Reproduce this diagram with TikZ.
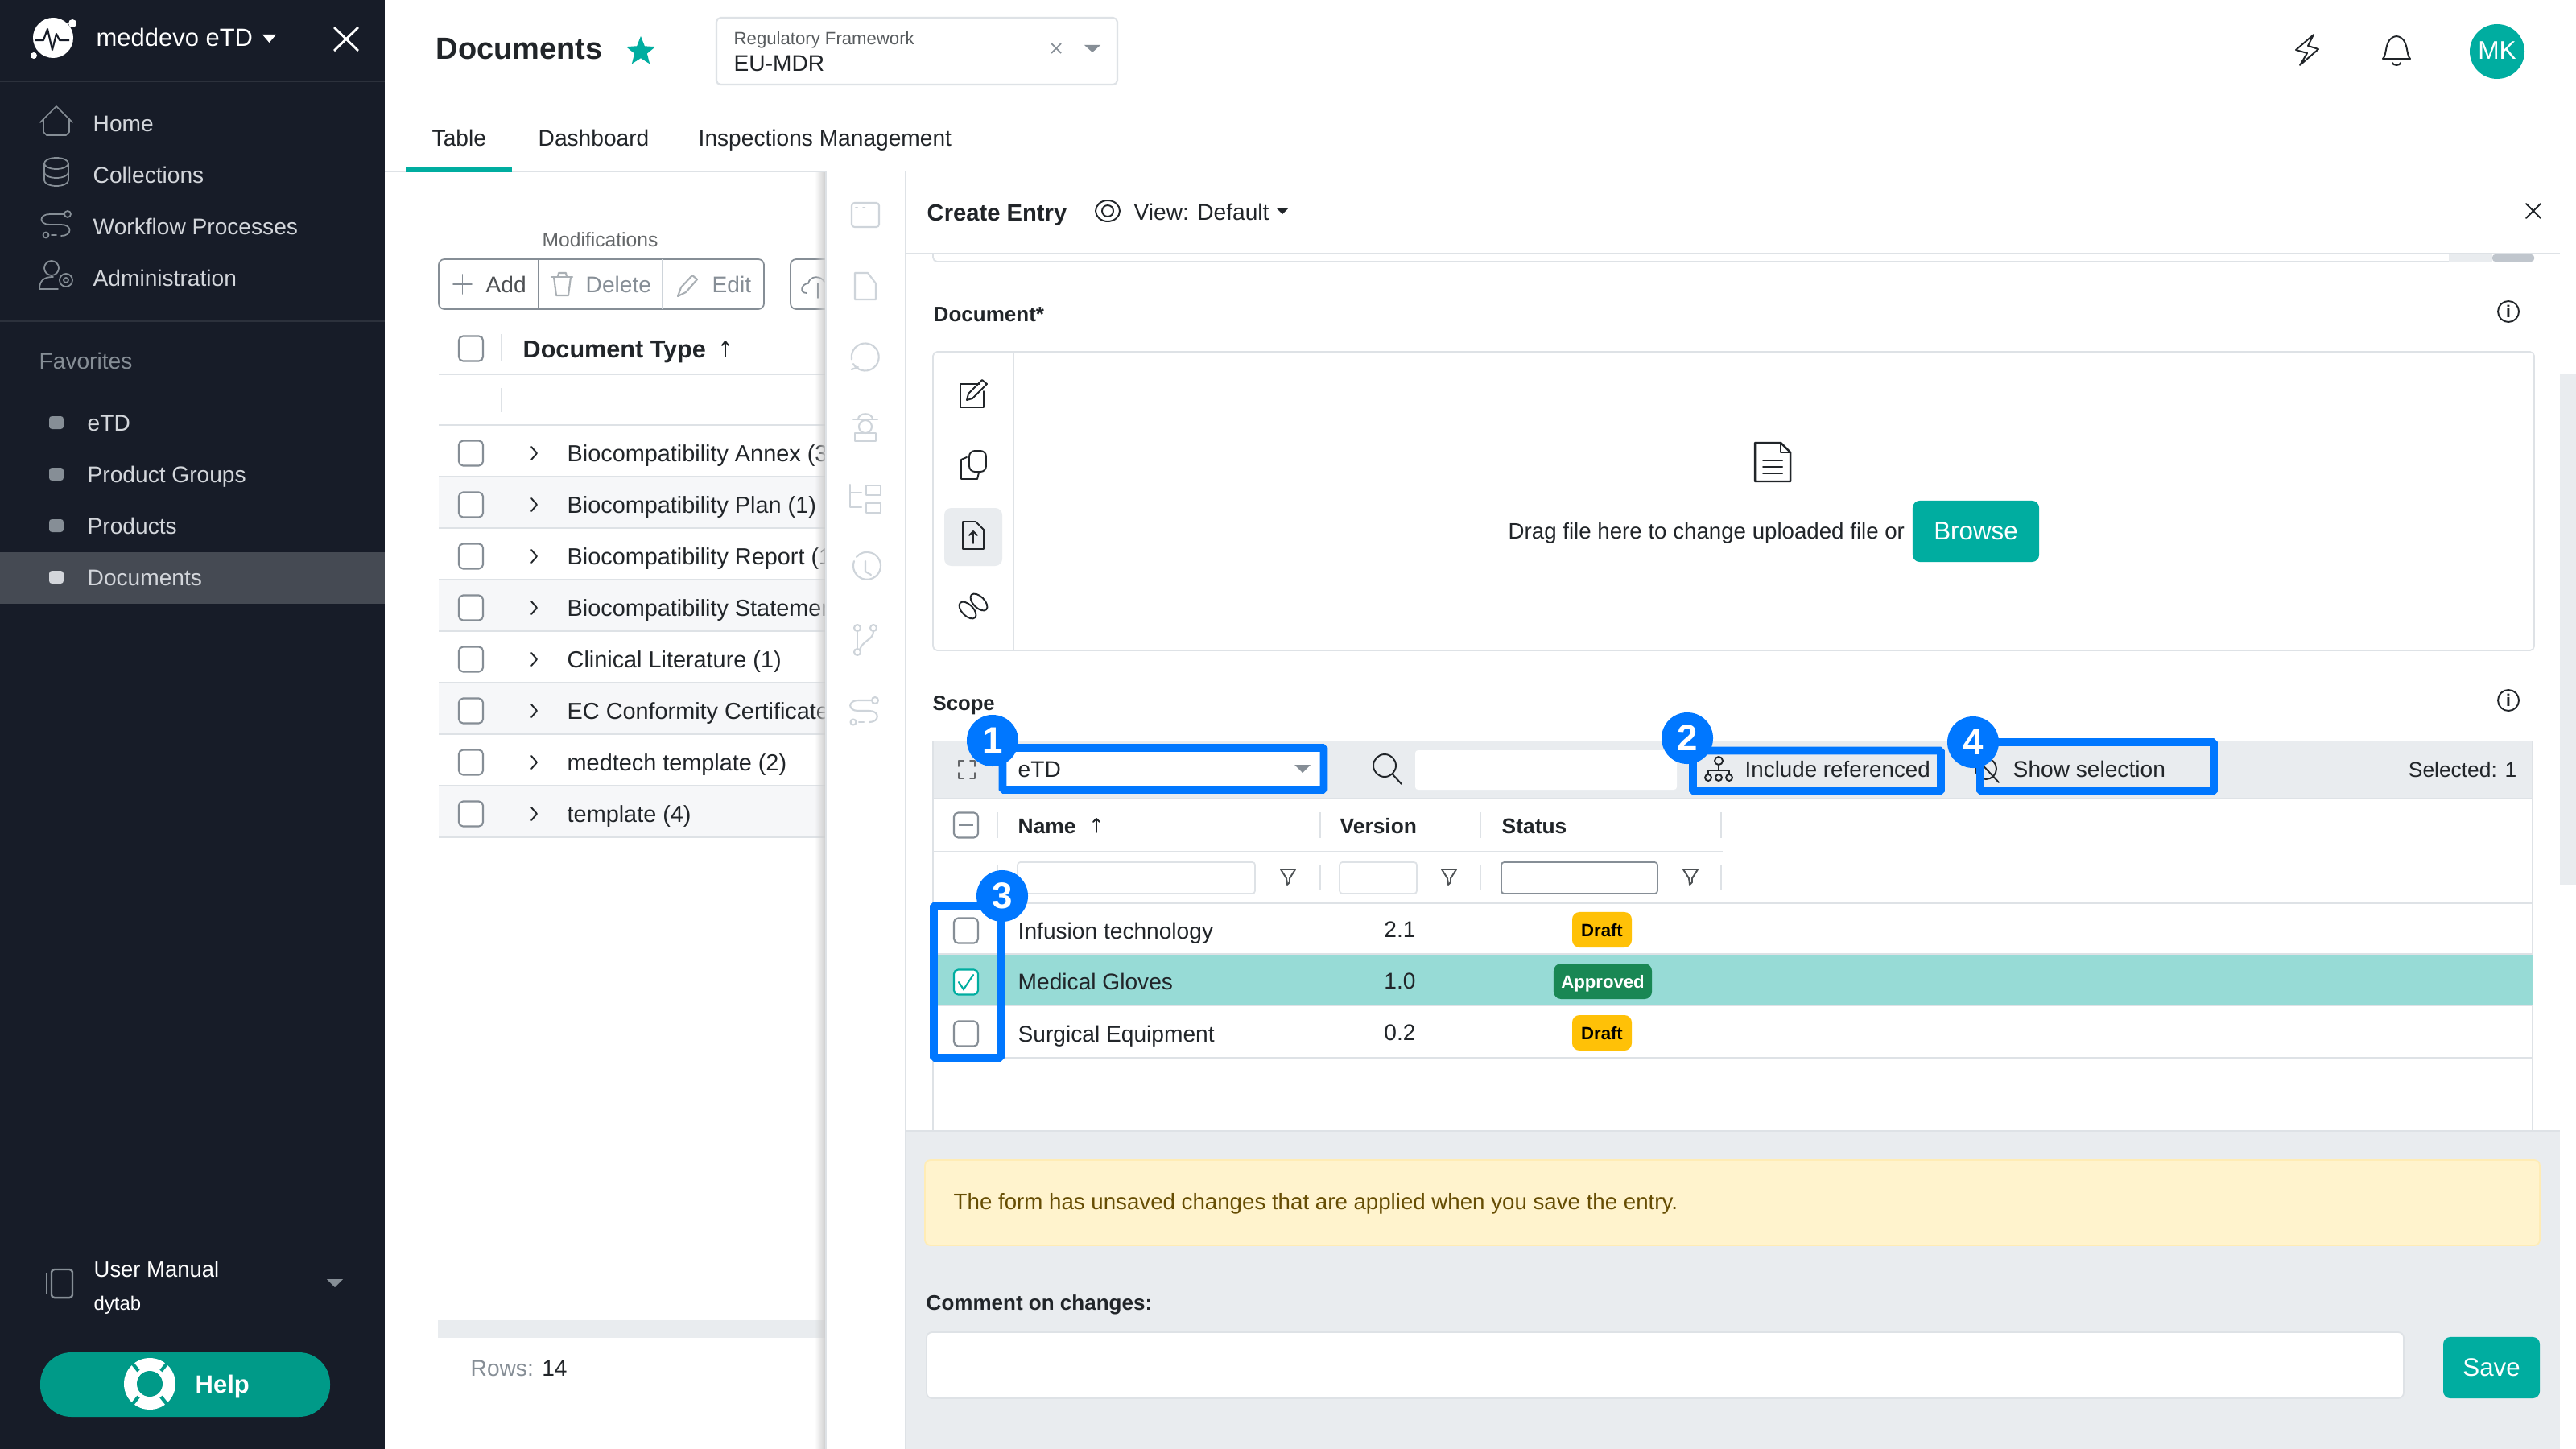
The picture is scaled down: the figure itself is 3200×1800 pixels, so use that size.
\documentclass[tikz,border=0pt]{standalone}
\usepackage{fontspec}
\setmainfont{Liberation Sans}
\usetikzlibrary{shapes.geometric}
\usetikzlibrary{fadings}
\definecolor{custom-navy}{HTML}{171C28}
\definecolor{custom-row}{HTML}{454A53}
\definecolor{custom-line}{HTML}{2C313C}
\definecolor{custom-teal}{HTML}{00ADA0}
\definecolor{custom-help}{HTML}{009A88}
\definecolor{custom-blue}{HTML}{0077FF}
\definecolor{custom-rule}{HTML}{DEE2E6}
\definecolor{custom-bar}{HTML}{E9ECEF}
\definecolor{custom-ink}{HTML}{212529}
\definecolor{custom-grey}{HTML}{868E96}
\definecolor{custom-pale}{HTML}{CED4DA}
\definecolor{custom-side}{HTML}{D3D6DB}
\definecolor{custom-draft}{HTML}{FFC107}
\definecolor{custom-ok}{HTML}{198754}
\definecolor{custom-pick}{HTML}{97DBD6}
\definecolor{custom-warn}{HTML}{FFF3CD}
\definecolor{custom-warnline}{HTML}{FFECB5}
\definecolor{custom-warntext}{HTML}{664D03}
\tikzset{
  txt/.style={anchor=west, inner sep=0pt, text height=7.2pt, text depth=1.3pt, text=custom-ink, font=\fontsize{8}{10}\selectfont},
  sidetxt/.style={txt, text=custom-side},
  typetxt/.style={txt, font=\fontsize{8.2}{10}\selectfont},
  headtxt/.style={txt, font=\fontsize{7.5}{10}\selectfont\bfseries},
  midtxt/.style={txt, anchor=center},
  chk/.style={draw=custom-grey, line width=0.6pt, rounded corners=1.5pt, minimum width=0.30cm, minimum height=0.31cm, inner sep=0pt, fill=white},
  badge/.style={rounded corners=2.6pt, inner sep=0pt, minimum height=0.44cm, text depth=0pt, font=\fontsize{6.3}{8}\selectfont\bfseries},
  rulel/.style={draw=custom-rule, line width=0.5pt},
  callout/.style={draw=custom-blue, line width=2.8pt, rounded corners=0.5pt},
  numdot/.style={circle, fill=custom-blue, text=white, minimum size=0.64cm, inner sep=0pt, font=\fontsize{13}{15}\selectfont\bfseries},
  iconl/.style={draw=custom-ink, line width=0.55pt, line cap=round, line join=round},
  sideicon/.style={draw=custom-grey, line width=0.5pt, line cap=round, line join=round},
  railicon/.style={draw=custom-pale, line width=0.6pt, line cap=round, line join=round},
  funnel/.pic={\draw[iconl, draw=custom-ink!80] (-9,-9) -- (9,-9) -- (2,2) -- (2,7) -- (-1,10) -- (-2,2) -- cycle;},
  infoicon/.pic={\draw[iconl] (0,0) circle (13);
    \node[inner sep=0pt, font=\fontsize{6}{7}\selectfont\bfseries, text=custom-ink] at (0,0) {i};},
  tickl/.style={draw=custom-rule, line width=0.4pt}
}
\begin{document}
\begin{tikzpicture}[x=0.01cm,y=-0.01cm]
\useasboundingbox (0,0) rectangle (3200,1800);
\fill[white] (0,0) rectangle (3200,1800);
% sidebar
\fill[custom-navy] (0,0) rectangle (478,1800);
\draw[custom-line, line width=0.7pt] (0,101) -- (478,101);
\draw[custom-line, line width=0.7pt] (0,399) -- (478,399);
\fill[custom-row] (0,686) rectangle (478,750);
\fill[white] (66,47) circle (25);
\fill[white] (90,29) circle (5);
\fill[white] (42,69) circle (4);
\draw[custom-navy, line width=0.6pt, line join=round] (44,50) -- (54,50) -- (59,36) -- (65,62) -- (70,42) -- (74,50) -- (86,50);
\node[sidetxt, text=white, font=\fontsize{8.8}{10}\selectfont] (brand) at (119,47) {meddevo eTD};
\fill[white] (326,43) -- (343,43) -- (334.5,53) -- cycle;
\draw[white, line width=0.8pt] (415,34) -- (445,63);
\draw[white, line width=0.8pt] (445,34) -- (415,63);
\draw[sideicon] (50,152) -- (70,132) -- (90,152);
\draw[sideicon] (54,148) -- (54,164) -- (58,168) -- (82,168) -- (86,164) -- (86,148);
\draw[sideicon] (70,203) ellipse (15 and 7);
\draw[sideicon] (55,203) -- (55,224) arc (180:0:15 and 7) -- (85,203);
\draw[sideicon] (55,214) arc (180:0:15 and 7);
\draw[sideicon] (80,266) -- (62,266) .. controls (48,266) and (48,279) .. (62,279) -- (76,279) .. controls (90,279) and (90,293) .. (76,293);
\draw[sideicon] (84,266) circle (4);
\draw[sideicon] (57,292) circle (3.5);
\draw[sideicon] (64,292) -- (70,292);
\draw[sideicon] (64,333) circle (9);
\draw[sideicon] (49,359) .. controls (49,346) and (58,344) .. (66,344);
\draw[sideicon] (49,359) -- (72,359);
\draw[sideicon] (82,348) circle (8);
\draw[sideicon] (82,348) circle (3);
\node[sidetxt] (home) at (115,153) {Home};
\node[sidetxt] (collections) at (115,217) {Collections};
\node[sidetxt] (workflow) at (115,281) {Workflow Processes};
\node[sidetxt] (admin) at (115,345) {Administration};
\node[sidetxt, text=custom-grey] (favorites) at (48,448) {Favorites};
\fill[custom-grey, rounded corners=1pt] (61,517) rectangle (79,533);
\fill[custom-grey, rounded corners=1pt] (61,581) rectangle (79,597);
\fill[custom-grey, rounded corners=1pt] (61,645) rectangle (79,661);
\fill[custom-side, rounded corners=1pt] (61,709) rectangle (79,725);
\node[sidetxt] (favA) at (108,525) {eTD};
\node[sidetxt] (favB) at (108,589) {Product Groups};
\node[sidetxt] (favC) at (108,653) {Products};
\node[sidetxt] (favD) at (108,717) {Documents};
\draw[custom-grey, line width=0.5pt] (57.5,1581) -- (57.5,1608);
\draw[custom-grey, line width=0.7pt, rounded corners=1pt] (64,1577) rectangle (90,1612);
\node[sidetxt, text=white, font=\fontsize{7.8}{10}\selectfont] (manual) at (116,1576) {User Manual};
\node[sidetxt, text=white, font=\fontsize{6.8}{9}\selectfont] (dytab) at (116,1617) {dytab};
\fill[custom-grey] (406,1589) -- (426,1589) -- (416,1599) -- cycle;
\fill[custom-help, rounded corners=11pt] (50,1680) rectangle (410,1760);
\fill[white] (186,1719) circle (32);
\fill[custom-help] (186,1719) circle (16);
\draw[custom-help, line width=1.2pt] (172,1703) -- (164,1693);
\draw[custom-help, line width=1.2pt] (200,1703) -- (208,1693);
\draw[custom-help, line width=1.2pt] (172,1735) -- (164,1745);
\draw[custom-help, line width=1.2pt] (200,1735) -- (208,1745);
\node[sidetxt, text=white, font=\fontsize{8.8}{10}\selectfont\bfseries] (help) at (242,1720) {Help};
% top bar
\node[txt, font=\fontsize{10.8}{12}\selectfont\bfseries] (title) at (541,63) {Documents};
\node[star, star points=5, star point ratio=2.3, fill=custom-teal, inner sep=0pt, minimum size=0.38cm] (fav) at (796,64) {};
\draw[custom-rule, line width=0.6pt, rounded corners=1.5pt] (890,22) rectangle (1388,105);
\node[txt, text=custom-ink!75, font=\fontsize{6.3}{8}\selectfont] (framework) at (911,45) {Regulatory Framework};
\node[txt] (mdr) at (911,78) {EU-MDR};
\draw[custom-grey, line width=0.5pt] (1306,54) -- (1318,66);
\draw[custom-grey, line width=0.5pt] (1318,54) -- (1306,66);
\fill[custom-grey] (1347,56) -- (1367,56) -- (1357,65) -- cycle;
\draw[iconl] (2874,43) -- (2852,62) -- (2866,66) -- (2857,81) -- (2880,61) -- (2867,57) -- cycle;
\draw[iconl] (2960,73) .. controls (2966,68) and (2961,47) .. (2977,45) .. controls (2993,47) and (2988,68) .. (2994,73) -- cycle;
\draw[iconl] (2972,78) arc (180:360:5 and -3);
\fill[custom-teal] (3102,64) circle (34);
\node[inner sep=0pt, text=white, font=\fontsize{9}{10}\selectfont] (initials) at (3102,63) {MK};
\node[txt] (tabA) at (536,171) {Table};
\node[txt] (tabB) at (668,171) {Dashboard};
\node[txt] (tabC) at (867,171) {Inspections Management};
\draw[rulel] (478,213) -- (3200,213);
\fill[custom-teal] (504,208) rectangle (636,214);
% table behind the panel
\node[txt, text=custom-ink!70, font=\fontsize{7}{9}\selectfont] (mods) at (673,296) {Modifications};
\draw[custom-grey, line width=0.5pt, rounded corners=2pt] (545,322) rectangle (949,384);
\draw[custom-grey, line width=0.5pt] (669,322) -- (669,384);
\draw[custom-pale, line width=0.5pt] (823,322) -- (823,384);
\draw[custom-grey, line width=0.5pt, rounded corners=2pt] (982,322) rectangle (1100,384);
\draw[sideicon] (563,353) -- (586,353);
\draw[sideicon] (574.5,341) -- (574.5,365);
\node[txt, text=custom-ink!80] (add) at (603,353) {Add};
\draw[railicon, draw=custom-grey!70] (685,344) -- (711,344);
\draw[railicon, draw=custom-grey!70] (693,344) -- (694,339) -- (703,339) -- (704,344);
\draw[railicon, draw=custom-grey!70] (688,344) -- (691,367) -- (706,367) -- (709,344);
\node[txt, text=custom-grey] (del) at (727,353) {Delete};
\draw[railicon, draw=custom-grey!70] (842,368) -- (846,357) -- (860,342) -- (866,347) -- (852,363) -- cycle;
\node[txt, text=custom-grey] (edit) at (884,353) {Edit};
\draw[sideicon] (1002,364) .. controls (992,364) and (996,352) .. (1004,352) .. controls (1006,342) and (1020,342) .. (1024,350);
\draw[sideicon] (1016,370) -- (1016,352);
\node[chk] (hchk) at (585,433) {};
\draw[tickl] (623,415) -- (623,448);
\draw[tickl] (623,482) -- (623,512);
\node[txt, font=\fontsize{8.7}{10}\selectfont\bfseries] (doctype) at (649,434) {Document Type};
\draw[iconl] (901,443) -- (901,424);
\draw[iconl] (897,429) -- (901,424) -- (905,429);
\draw[rulel] (545,465) -- (1030,465);
\draw[rulel] (545,528) -- (1030,528);
\fill[custom-bar!40] (545,592) rectangle (1030,656);
\fill[custom-bar!40] (545,720) rectangle (1030,784);
\fill[custom-bar!40] (545,848) rectangle (1030,912);
\fill[custom-bar!40] (545,976) rectangle (1030,1040);
\draw[rulel] (545,592) -- (1030,592);
\draw[rulel] (545,656) -- (1030,656);
\draw[rulel] (545,720) -- (1030,720);
\draw[rulel] (545,784) -- (1030,784);
\draw[rulel] (545,848) -- (1030,848);
\draw[rulel] (545,912) -- (1030,912);
\draw[rulel] (545,976) -- (1030,976);
\draw[rulel] (545,1040) -- (1030,1040);
\node[chk] (rowA) at (585,563) {};
\node[chk] (rowB) at (585,627) {};
\node[chk] (rowC) at (585,691) {};
\node[chk] (rowD) at (585,755) {};
\node[chk] (rowE) at (585,819) {};
\node[chk] (rowF) at (585,883) {};
\node[chk] (rowG) at (585,947) {};
\node[chk] (rowH) at (585,1011) {};
\draw[iconl] (660,555) -- (667,563) -- (660,571);
\draw[iconl] (660,619) -- (667,627) -- (660,635);
\draw[iconl] (660,683) -- (667,691) -- (660,699);
\draw[iconl] (660,747) -- (667,755) -- (660,763);
\draw[iconl] (660,811) -- (667,819) -- (660,827);
\draw[iconl] (660,875) -- (667,883) -- (660,891);
\draw[iconl] (660,939) -- (667,947) -- (660,955);
\draw[iconl] (660,1003) -- (667,1011) -- (660,1019);
\node[typetxt] (typeA) at (704,563) {Biocompatibility Annex (3)};
\node[typetxt] (typeB) at (704,627) {Biocompatibility Plan (1)};
\node[typetxt] (typeC) at (704,691) {Biocompatibility Report (1)};
\node[typetxt] (typeD) at (704,755) {Biocompatibility Statement (1)};
\node[typetxt] (typeE) at (704,819) {Clinical Literature (1)};
\node[typetxt] (typeF) at (704,883) {EC Conformity Certificate (1)};
\node[typetxt] (typeG) at (704,947) {medtech template (2)};
\node[typetxt] (typeH) at (704,1011) {template (4)};
\fill[custom-bar] (544,1640) rectangle (1030,1662);
\node[txt, text=custom-grey] (rows) at (584,1699) {Rows: \textcolor{custom-ink}{14}};
% panel
\fill[white] (1026,213) rectangle (3200,1800);
\fill[black!20, path fading=west] (1012,214) rectangle (1026,1800);
\draw[rulel] (1026,213) -- (1026,1800);
\draw[rulel] (1125,213) -- (1125,1800);
\draw[rulel] (1125,315) -- (3200,315);
\draw[railicon, rounded corners=1pt] (1058,252) rectangle (1092,282);
\draw[railicon, dotted] (1063,258) -- (1075,258);
\draw[railicon] (1062,344) -- (1062,372) -- (1088,372) -- (1088,352) -- (1078,339) -- (1062,339) -- (1062,344);
\draw[railicon] (1060,452) arc (150:-190:17);
\draw[railicon] (1059,458) -- (1058,459) -- (1066,456);
\draw[railicon] (1060,521) -- (1090,521);
\draw[railicon] (1066,521) .. controls (1066,512) and (1084,512) .. (1084,521);
\draw[railicon] (1075,530) circle (8);
\draw[railicon] (1062,548) -- (1062,538) -- (1088,538) -- (1088,548) -- cycle;
\draw[railicon] (1056,602) -- (1056,630) -- (1070,630);
\draw[railicon] (1056,612) -- (1070,612);
\draw[railicon] (1076,603) rectangle (1094,615);
\draw[railicon] (1076,625) rectangle (1094,637);
\draw[railicon] (1061,697) arc (200:-140:17);
\draw[railicon] (1075,697) -- (1075,710) -- (1082,714);
\draw[railicon] (1065,780) circle (4);
\draw[railicon] (1085,780) circle (4);
\draw[railicon] (1065,810) circle (4);
\draw[railicon] (1065,784) -- (1065,806);
\draw[railicon] (1085,784) .. controls (1085,795) and (1072,795) .. (1068,807);
\draw[railicon] (1082,870) -- (1066,870) .. controls (1053,870) and (1053,883) .. (1066,883) -- (1080,883) .. controls (1093,883) and (1093,897) .. (1080,897);
\draw[railicon] (1087,870) circle (4);
\draw[railicon] (1060,897) circle (3.5);
\draw[railicon] (1067,897) -- (1073,897);
\node[txt, font=\fontsize{8.3}{10}\selectfont\bfseries] (entry) at (1151,264) {Create Entry};
\draw[iconl] (1376,262) ellipse (15 and 13);
\draw[iconl] (1376,262) circle (7);
\node[txt] (view) at (1408,263) {View: Default};
\fill[custom-ink] (1585,258) -- (1601,258) -- (1593,266) -- cycle;
\draw[iconl] (3138,253) -- (3156,271);
\draw[iconl] (3156,253) -- (3138,271);
% field above
\draw[rulel, rounded corners=1.5pt] (1159,316) -- (1159,325) -- (3042,325);
\fill[custom-bar] (3042,316) rectangle (3096,325);
\fill[custom-pale!80!custom-grey, rounded corners=1pt] (3096,316) rectangle (3148,325);
% document field
\node[txt, font=\fontsize{7.4}{9}\selectfont\bfseries] (docfield) at (1159,389) {Document*};
\path (3116,387) pic {infoicon};
\draw[rulel, rounded corners=1.5pt] (1159,437) rectangle (3148,808);
\draw[rulel] (1259,437) -- (1259,808);
\fill[custom-bar, rounded corners=2.5pt] (1173,631) rectangle (1245,703);
\draw[iconl] (1217,477) -- (1193,477) -- (1193,506) -- (1222,506) -- (1222,486);
\draw[iconl] (1201,497) -- (1203,489) -- (1220,472) -- (1226,477) -- (1208,495) -- cycle;
\draw[iconl, rounded corners=2pt] (1204,560) rectangle (1225,586);
\draw[iconl] (1201,568) -- (1194,571) -- (1194,595) -- (1214,595) -- (1216,587);
\draw[iconl] (1196,648) -- (1196,682) -- (1222,682) -- (1222,658) -- (1212,648) -- cycle;
\draw[iconl] (1209,675) -- (1209,660);
\draw[iconl] (1204,665) -- (1209,660) -- (1214,665);
\draw[iconl, rotate around={-45:(1202,758)}] (1202,758) ellipse (13 and 7);
\draw[iconl, rotate around={-45:(1216,748)}] (1216,748) ellipse (13 and 7);
\draw[iconl, line width=0.7pt] (2180,550) -- (2212,550) -- (2224,562) -- (2224,598) -- (2180,598) -- cycle;
\draw[iconl] (2212,550) -- (2212,562) -- (2224,562);
\draw[iconl] (2190,572) -- (2214,572);
\draw[iconl] (2190,580) -- (2214,580);
\draw[iconl] (2190,588) -- (2214,588);
\node[txt, font=\fontsize{7.87}{10}\selectfont] (drag) at (1873,659) {Drag file here to change uploaded file or};
\node[fill=custom-teal, text=white, rounded corners=2.5pt, inner sep=0pt, minimum width=1.57cm, minimum height=0.76cm, font=\fontsize{8.9}{10}\selectfont] (browse) at (2454.5,660) {Browse};
% scope grid
\node[txt, font=\fontsize{7.3}{9}\selectfont\bfseries] (scope) at (1158,872) {Scope};
\path (3116,870) pic {infoicon};
\fill[custom-bar] (1159,920) rectangle (3146,992);
\draw[rulel] (1159,992) -- (3146,992);
\draw[rulel] (1159,920) -- (1159,1405);
\draw[rulel] (3146,920) -- (3146,1405);
\draw[iconl, draw=custom-ink!70] (1191,952) -- (1191,945) -- (1197,945);
\draw[iconl, draw=custom-ink!70] (1205,945) -- (1211,945) -- (1211,952);
\draw[iconl, draw=custom-ink!70] (1191,960) -- (1191,967) -- (1197,967);
\draw[iconl, draw=custom-ink!70] (1205,967) -- (1211,967) -- (1211,960);
\fill[white] (1250,934) rectangle (1640,976);
\node[txt] (etd) at (1264,955) {eTD};
\fill[custom-grey] (1608,950) -- (1628,950) -- (1618,960) -- cycle;
\draw[iconl] (1720,951) circle (14);
\draw[iconl] (1730,962) -- (1741,974);
\fill[white, rounded corners=1pt] (1758,932) rectangle (2083,981);
\draw[iconl] (2135,945) circle (5);
\draw[iconl] (2135,950) -- (2135,957);
\draw[iconl] (2122,962) -- (2122,957) -- (2148,957) -- (2148,962);
\draw[iconl] (2122,966) circle (4);
\draw[iconl] (2135,966) circle (4);
\draw[iconl] (2148,966) circle (4);
\node[txt, font=\fontsize{7.9}{10}\selectfont] (incl) at (2167,955) {Include referenced};
\draw[iconl] (2467,955) circle (13);
\draw[iconl] (2455,942) -- (2483,972);
\node[txt] (showsel) at (2500,955) {Show selection};
\node[txt, anchor=east, font=\fontsize{7.5}{10}\selectfont] (selected) at (3127,955) {Selected: 1};
% grid head
\node[chk] (allchk) at (1200,1025) {};
\draw[custom-grey, line width=0.6pt] (1191,1025) -- (1209,1025);
\draw[tickl] (1239,1009) -- (1239,1041);
\draw[tickl] (1640,1009) -- (1640,1041);
\draw[tickl] (1839,1009) -- (1839,1041);
\draw[tickl] (2138,1009) -- (2138,1041);
\node[headtxt] (name) at (1264,1025) {Name};
\draw[iconl] (1362,1034) -- (1362,1017);
\draw[iconl] (1358,1021) -- (1362,1017) -- (1366,1021);
\node[headtxt] (version) at (1664,1025) {Version};
\node[headtxt] (status) at (1865,1025) {Status};
\draw[rulel] (1159,1058) -- (2140,1058);
\draw[tickl] (1239,1074) -- (1239,1106);
\draw[tickl] (1640,1074) -- (1640,1106);
\draw[tickl] (1839,1074) -- (1839,1106);
\draw[tickl] (2138,1074) -- (2138,1106);
\draw[rulel, rounded corners=1pt] (1264,1071) rectangle (1559,1110);
\draw[rulel, rounded corners=1pt] (1664,1071) rectangle (1760,1110);
\draw[custom-grey, line width=0.5pt, rounded corners=1pt] (1865,1071) rectangle (2059,1110);
\path (1600,1089) pic {funnel};
\path (1800,1089) pic {funnel};
\path (2100,1089) pic {funnel};
% grid rows
\fill[custom-pick] (1159,1186) rectangle (3146,1249);
\draw[rulel] (1159,1122) -- (3146,1122);
\draw[rulel] (1159,1185) -- (3146,1185);
\draw[rulel] (1159,1249) -- (3146,1249);
\draw[rulel] (1159,1314) -- (3146,1314);
\node[chk] (pickA) at (1200,1156) {};
\node[chk, draw=custom-teal] (pickB) at (1200,1220) {};
\node[chk] (pickC) at (1200,1284) {};
\draw[custom-teal, line width=0.6pt, line cap=round] (1191,1220) -- (1197,1229) -- (1209,1211);
\node[txt] (nameA) at (1264,1156) {Infusion technology};
\node[txt] (nameB) at (1264,1219) {Medical Gloves};
\node[txt] (nameC) at (1264,1284) {Surgical Equipment};
\node[midtxt] (verA) at (1739,1154) {2.1};
\node[midtxt] (verB) at (1739,1218) {1.0};
\node[midtxt] (verC) at (1739,1282) {0.2};
\node[badge, fill=custom-draft, minimum width=0.74cm] (drA) at (1990,1155) {Draft};
\node[badge, fill=custom-ok, text=white, minimum width=1.22cm] (okB) at (1991,1219) {Approved};
\node[badge, fill=custom-draft, minimum width=0.74cm] (drC) at (1990,1283) {Draft};
% footer
\fill[white] (3180,213) rectangle (3200,1800);
\fill[custom-bar] (3180,465) rectangle (3200,1099);
\fill[custom-bar] (1126,1405) rectangle (3180,1800);
\draw[rulel] (1126,1405) -- (3180,1405);
\draw[custom-warnline, fill=custom-warn, line width=0.5pt, rounded corners=2pt] (1149,1441) rectangle (3155,1547);
\node[txt, text=custom-warntext, font=\fontsize{7.87}{10}\selectfont] (warn) at (1184,1492) {The form has unsaved changes that are applied when you save the entry.};
\node[txt, font=\fontsize{7.4}{9}\selectfont\bfseries] (comment) at (1150,1617) {Comment on changes:};
\draw[custom-rule, fill=white, line width=0.5pt, rounded corners=2pt] (1151,1655) rectangle (2986,1737);
\node[fill=custom-teal, text=white, rounded corners=2.5pt, inner sep=0pt, minimum width=1.20cm, minimum height=0.76cm, font=\fontsize{8.9}{10}\selectfont] (save) at (3095,1699) {Save};
% callouts
\draw[callout] (1245.5,929) rectangle (1644.5,981);
\draw[callout] (2103,932.5) rectangle (2411,983);
\draw[callout] (1160,1125) rectangle (1243,1314);
\draw[callout] (2460,922) rectangle (2750,983);
\node[numdot] (dotA) at (1233,920) {1};
\node[numdot] (dotB) at (2096,917) {2};
\node[numdot] (dotC) at (1245,1113) {3};
\node[numdot] (dotD) at (2451,922) {4};
\end{tikzpicture}
\end{document}
